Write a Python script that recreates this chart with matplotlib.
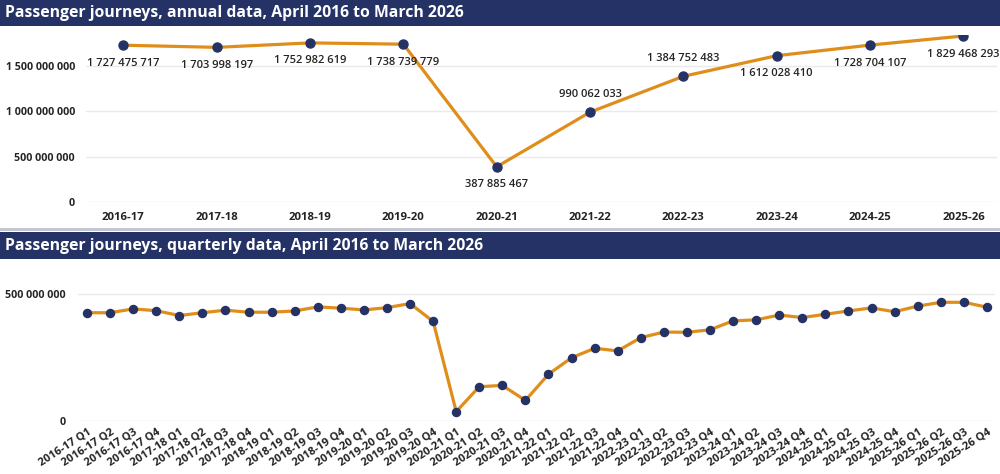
import matplotlib
matplotlib.use("Agg")
import matplotlib.pyplot as plt
from matplotlib.patches import Rectangle

# annual totals, April-March financial years
years = ["2016-17", "2017-18", "2018-19", "2019-20", "2020-21",
         "2021-22", "2022-23", "2023-24", "2024-25", "2025-26"]
annual = [1727475717, 1703998197, 1752982619, 1738739779, 387885467,
          990062033, 1384752483, 1612028410, 1728704107, 1829468293]
# label above (+1) or below (-1) the point
label_side = [-1, -1, -1, -1, -1, 1, 1, -1, -1, -1]

quarters = [f"{y} Q{q}" for y in years for q in range(1, 5)]
quarterly = [426e6, 426e6, 441e6, 434e6,
             415e6, 426e6, 436e6, 428e6,
             428e6, 433e6, 449e6, 444e6,
             437e6, 446e6, 462e6, 392e6,
             37e6, 135e6, 140e6, 81e6,
             184e6, 249e6, 286e6, 276e6,
             328e6, 350e6, 349e6, 359e6,
             394e6, 398e6, 417e6, 407e6,
             420e6, 433e6, 445e6, 430e6,
             452e6, 467e6, 467e6, 448e6]

NAVY = "#253266"
ORANGE = "#E08E1B"
TEXT = "#252423"
GRID = "#EAEAEA"

plt.rcParams["font.family"] = ["Open Sans", "DejaVu Sans"]


def spaced(v):
    return f"{int(round(v)):,}".replace(",", " ")


fig = plt.figure(figsize=(10, 4.74), dpi=100)
H = 474.0

# title bars
fig.patches.append(Rectangle((0, (H - 26) / H), 1, 26 / H, transform=fig.transFigure,
                             facecolor=NAVY, edgecolor="none", zorder=0))
fig.patches.append(Rectangle((0, (H - 231) / H), 1, 3 / H, transform=fig.transFigure,
                             facecolor="#C3C6D0", edgecolor="none", zorder=0))
fig.patches.append(Rectangle((0, (H - 259) / H), 1, 27 / H, transform=fig.transFigure,
                             facecolor=NAVY, edgecolor="none", zorder=0))
fig.text(0.005, (H - 13) / H, "Passenger journeys, annual data, April 2016 to March 2026",
         color="white", fontsize=11.3, fontweight="bold", va="center", ha="left")
fig.text(0.005, (H - 245.5) / H, "Passenger journeys, quarterly data, April 2016 to March 2026",
         color="white", fontsize=11.3, fontweight="bold", va="center", ha="left")

# annual chart
ax1 = fig.add_axes([0.086, (H - 202) / H, 0.911, 167 / H])
x1 = list(range(len(years)))
ax1.plot(x1, annual, color=ORANGE, lw=2.3, marker="o", ms=6.5,
         mfc=NAVY, mec=NAVY, zorder=3, clip_on=True)
for xi, v, s in zip(x1, annual, label_side):
    ax1.annotate(spaced(v), (xi, v), xytext=(0, 13 * s), textcoords="offset points",
                 ha="center", va="center", fontsize=8, fontweight="semibold", color=TEXT)
ax1.set_ylim(0, 1.84e9)
ax1.set_xlim(-0.4, 9.36)
ax1.set_yticks([0, 5e8, 1e9, 1.5e9])
ax1.set_yticklabels([spaced(t) for t in [0, 5e8, 1e9, 1.5e9]])
ax1.set_xticks(x1)
ax1.set_xticklabels(years)
ax1.grid(axis="y", color=GRID, lw=1)
ax1.set_axisbelow(True)
for sp in ax1.spines.values():
    sp.set_visible(False)
ax1.tick_params(length=0, labelsize=7.7, colors=TEXT)
ax1.tick_params(axis="x", labelsize=8.2, pad=7)
ax1.tick_params(axis="y", pad=8)
for lab in ax1.get_xticklabels() + ax1.get_yticklabels():
    lab.set_fontweight("bold")

# quarterly chart
ax2 = fig.add_axes([0.078, (H - 421) / H, 0.917, 153 / H])
x2 = list(range(len(quarters)))
ax2.plot(x2, quarterly, color=ORANGE, lw=2.3, marker="o", ms=5.8,
         mfc=NAVY, mec=NAVY, zorder=3)
ax2.set_ylim(0, 6.02e8)
ax2.set_xlim(-0.39, 39.35)
ax2.set_yticks([0, 5e8])
ax2.set_yticklabels([spaced(t) for t in [0, 5e8]])
ax2.set_xticks(x2)
ax2.set_xticklabels(quarters, rotation=33, ha="right", rotation_mode="anchor")
ax2.grid(axis="y", color=GRID, lw=1)
ax2.set_axisbelow(True)
for sp in ax2.spines.values():
    sp.set_visible(False)
ax2.tick_params(length=0, labelsize=7.7, colors=TEXT)
ax2.tick_params(axis="x", labelsize=8, pad=4)
ax2.tick_params(axis="y", pad=9)
for lab in ax2.get_xticklabels() + ax2.get_yticklabels():
    lab.set_fontweight("bold")

fig.savefig("out.png", dpi=100, facecolor="white")
